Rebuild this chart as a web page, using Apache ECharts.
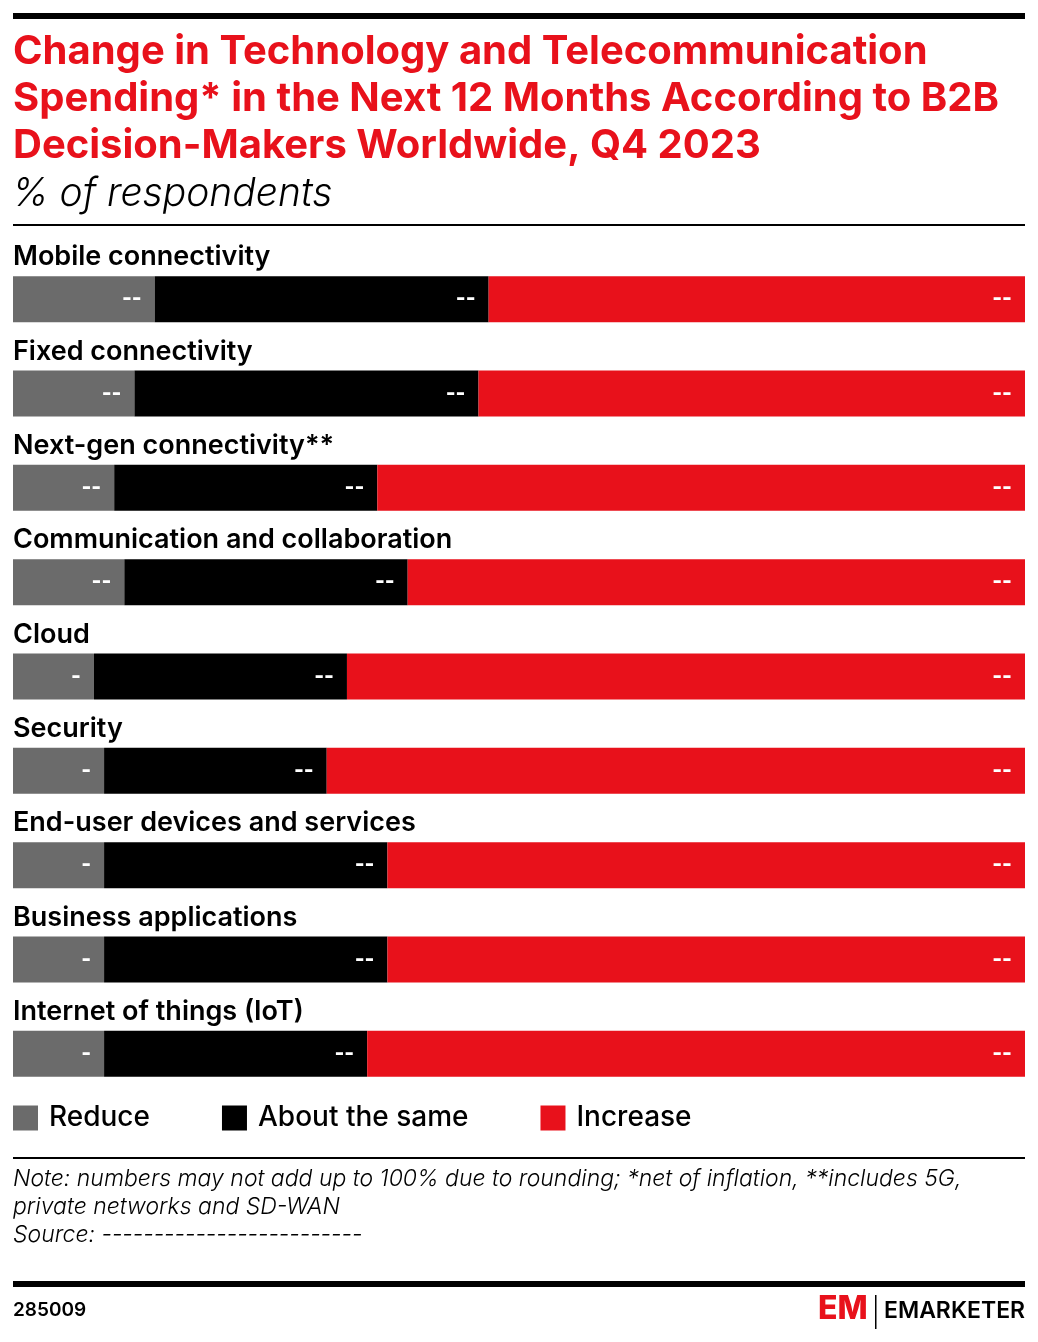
<!DOCTYPE html>
<html>
<head>
<meta charset="utf-8">
<script src="https://cdn.jsdelivr.net/npm/echarts@6/dist/echarts.min.js"></script>
<style>
  html, body { margin: 0; padding: 0; background: #fff; }
  #chart { width: 1038px; height: 1342px; }
</style>
</head>
<body>
<div id="chart"></div>
<script>
const categories = [
  'Mobile connectivity',
  'Fixed connectivity',
  'Next-gen connectivity**',
  'Communication and collaboration',
  'Cloud',
  'Security',
  'End-user devices and services',
  'Business applications',
  'Internet of things (IoT)'
];
const reduceVals   = [14, 12, 10, 11, 8, 9, 9, 9, 9];
const sameVals     = [33, 34, 26, 28, 25, 22, 28, 28, 26];
const increaseVals = [53, 54, 64, 61, 67, 69, 63, 63, 65];
// the source shows placeholder labels instead of numbers
const reduceLabels   = ['--', '--', '--', '--', '-', '-', '-', '-', '-'];
const sameLabels     = ['--', '--', '--', '--', '--', '--', '--', '--', '--'];
const increaseLabels = ['--', '--', '--', '--', '--', '--', '--', '--', '--'];

const RED = '#e8111b';
const GRAY = '#6b6b6b';
const FONT = 'Inter';

const chart = echarts.init(document.getElementById('chart'));

function seg(name, vals, labels, color) {
  return {
    name: name,
    type: 'bar',
    stack: 'total',
    barWidth: 46,
    data: vals,
    itemStyle: { color: color },
    label: {
      show: true,
      position: 'insideRight',
      distance: 13,
      color: '#fff',
      textBorderWidth: 0,
      fontFamily: FONT,
      fontWeight: 800,
      fontSize: 21,
      formatter: p => labels[p.dataIndex]
    },
    emphasis: { disabled: true }
  };
}

chart.setOption({
  animation: false,
  title: [
    {
      text: 'Change in Technology and Telecommunication\nSpending* in the Next 12 Months According to B2B\nDecision-Makers Worldwide, Q4 2023',
      left: 13, top: 28, padding: 0,
      textStyle: { color: RED, fontFamily: FONT, fontWeight: 700, fontSize: 40, lineHeight: 47 }
    },
    {
      text: '% of respondents',
      left: 12, top: 175, padding: 0,
      textStyle: { color: '#000', fontFamily: FONT, fontWeight: 300, fontStyle: 'italic', fontSize: 39 }
    }
  ],
  legend: {
    left: 13, top: 1104, padding: 0,
    itemWidth: 25, itemHeight: 25, itemGap: 72,
    icon: 'rect',
    textStyle: { fontFamily: FONT, fontWeight: 500, fontSize: 28, color: '#000', padding: [0, 0, 0, 6] },
    data: ['Reduce', 'About the same', 'Increase']
  },
  grid: { left: 13, right: 13, top: 252, height: 849 },
  xAxis: { type: 'value', min: 0, max: 100, show: false },
  yAxis: {
    type: 'category',
    inverse: true,
    data: categories,
    axisLine: { show: false },
    axisTick: { show: false },
    axisLabel: { show: false }
  },
  series: [
    seg('Reduce', reduceVals, reduceLabels, GRAY),
    seg('About the same', sameVals, sameLabels, '#000'),
    seg('Increase', increaseVals, increaseLabels, RED),
    {
      // category names sit above each bar
      type: 'scatter',
      symbolSize: 0,
      silent: true,
      itemStyle: { opacity: 1 },
      data: categories.map((c, i) => [0, i]),
      label: {
        show: true,
        position: 'right',
        distance: 0,
        offset: [0, -42],
        color: '#000',
        opacity: 1,
        fontFamily: FONT,
        fontWeight: 600,
        fontSize: 27,
        formatter: p => categories[p.dataIndex]
      }
    }
  ],
  graphic: [
    { type: 'rect', shape: { x: 13, y: 13, width: 1012, height: 6 }, style: { fill: '#000' } },
    { type: 'rect', shape: { x: 13, y: 224, width: 1012, height: 2 }, style: { fill: '#000' } },
    { type: 'rect', shape: { x: 13, y: 1157, width: 1012, height: 2 }, style: { fill: '#000' } },
    { type: 'rect', shape: { x: 13, y: 1281, width: 1012, height: 6 }, style: { fill: '#000' } },
    {
      type: 'text', left: 13, top: 1165,
      style: {
        text: 'Note: numbers may not add up to 100% due to rounding; *net of inflation, **includes 5G,\nprivate networks and SD-WAN\nSource: -------------------------',
        fill: '#000', font: 'italic 300 23px Inter', lineHeight: 28
      }
    },
    {
      type: 'text', left: 13, top: 1301,
      style: { text: '285009', fill: '#000', font: '600 19px Inter' }
    },
    {
      type: 'text', left: 818, top: 1293,
      style: { text: 'EM', fill: RED, font: '800 32px Inter' }
    },
    { type: 'rect', shape: { x: 875, y: 1295, width: 1.5, height: 34 }, style: { fill: '#000' } },
    {
      type: 'text', left: 884, top: 1300,
      style: { text: 'EMARKETER', fill: '#000', font: '600 23px Inter' }
    }
  ]
});
</script>
</body>
</html>
